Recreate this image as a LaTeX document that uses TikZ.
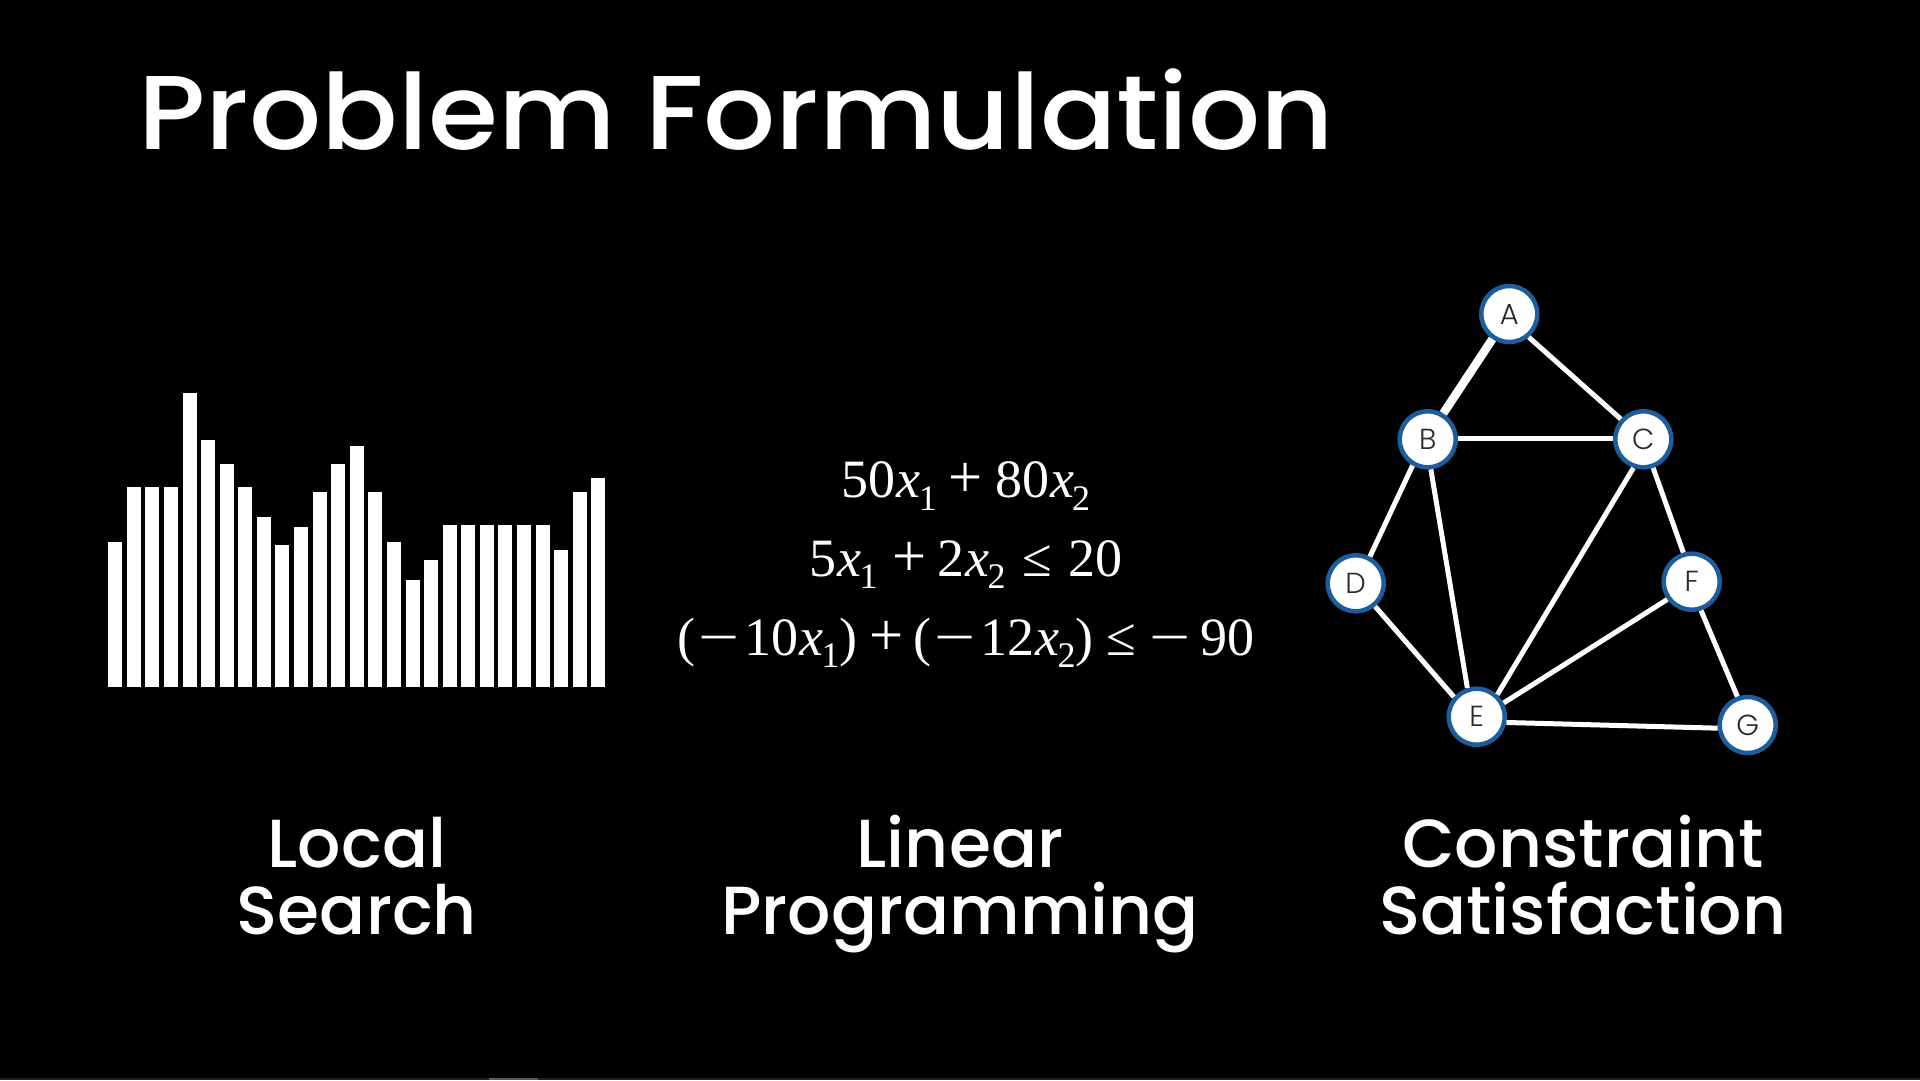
\documentclass[tikz,border=0pt]{standalone}
\usepackage{fontspec}
\setmainfont{Poppins}
\newfontfamily\medfont{Poppins Medium}
\newfontfamily\lightfont{Poppins Light}
\newfontfamily\eqfont{Liberation Serif}
\newcommand{\sbx}[1]{\raisebox{-12.5pt}{\fontsize{36}{36}\selectfont #1}}
\newcommand{\vx}[1]{\kern1pt{\itshape x}\kern-2pt\sbx{#1}}
\newcommand{\gp}[1]{\kern#1pt\relax}
\newcommand{\mns}{\scalebox{1.35}[1]{−}}
\newcommand{\pls}{\scalebox{1.12}{+}}
\tikzset{
  vert/.style={circle,draw=nodeblue,fill=white,line width=4.5pt,minimum size=56pt,inner sep=0pt,text=nodeink,font=\lightfont\fontsize{29}{29}\selectfont},
  edgeline/.style={draw=white,line width=5pt},
  heavyedge/.style={draw=white,line width=8.5pt},
  eqn/.style={text=white,inner sep=0pt,anchor=base,font=\eqfont\fontsize{54}{54}\selectfont},
  caption/.style={text=white,inner sep=0pt,anchor=base,font=\medfont\fontsize{68}{68}\selectfont},
}
\definecolor{nodeblue}{HTML}{1B5E9B}
\definecolor{nodeink}{HTML}{2A2A2A}
\begin{document}
\begin{tikzpicture}[x=1pt,y=-1pt]
\fill[black] (0,0) rectangle (1920,1080);
\useasboundingbox (0,0) rectangle (1920,1080);
\fill[white!12!black] (0,1078) rectangle (1920,1080);
\fill[white!35!black] (489,1078) rectangle (538,1080);
% title
\node[text=white,inner sep=0pt,anchor=base] (title) at (736.5,149) {\scalebox{1.078}[1]{\medfont\fontsize{105}{105}\selectfont Problem Formulation}};
% bars
\foreach \t [count=\i from 0] in {515,350,350,350,68,209,281,350,440,524,470,365,281,227,365,515,629,569,464,464,464,464,464,464,539,365,323}{
  \pgfmathsetmacro{\xl}{108.25+18.58*\i}
  \pgfmathsetmacro{\yt}{370+\t/3}
  \fill[white] (\xl,\yt) rectangle ({\xl+14},686.5);
}
% equations
\node[eqn] (eqa) at (966,497.5) {50\vx{1}\gp{12}\pls\gp{12}80\vx{2}};
\node[eqn] (eqb) at (966,576) {5\vx{1}\gp{15}\pls\gp{11}2\vx{2}\gp{17}≤\gp{16}20};
\node[eqn] (eqc) at (966,655) {(\gp{3}\mns\gp{5}10\vx{1})\gp{12}\pls\gp{10}(\gp{3}\mns\gp{5}12\vx{2})\gp{13}≤\gp{13}\mns\gp{10}90};
% graph
\node[vert] (A) at (1509.3,314) {A};
\node[vert] (B) at (1427.7,439.3) {B};
\node[vert] (C) at (1643.3,439.3) {C};
\node[vert] (D) at (1355.7,583.3) {D};
\node[vert] (E) at (1476.7,716.7) {E};
\node[vert] (F) at (1691.7,581.7) {F};
\node[vert] (G) at (1747.7,725) {G};
\draw[heavyedge] (A.-124) -- (B.59);
\draw[edgeline] (A.-50) -- (C.138);
\draw[edgeline] (B.2) -- (C.178);
\draw[edgeline] (B.-120) -- (D.62);
\draw[edgeline] (B.-84) -- (E.108);
\draw[edgeline] (C.-109) -- (E.47);
\draw[edgeline] (C.-71) -- (F.106);
\draw[edgeline] (D.-50) -- (E.139);
\draw[edgeline] (E.27) -- (F.-144);
\draw[edgeline] (E.-11) -- (G.186);
\draw[edgeline] (F.-72) -- (G.110);
% captions
\node[caption] (l1) at (357,867) {Local};
\node[caption] (l2) at (357,934.5) {Search};
\node[caption] (m1) at (960,867) {Linear};
\node[caption] (m2) at (960,934.5) {Programming};
\node[caption] (r1) at (1583,867) {Constraint};
\node[caption] (r2) at (1583,934.5) {Satisfaction};
\end{tikzpicture}
\end{document}
